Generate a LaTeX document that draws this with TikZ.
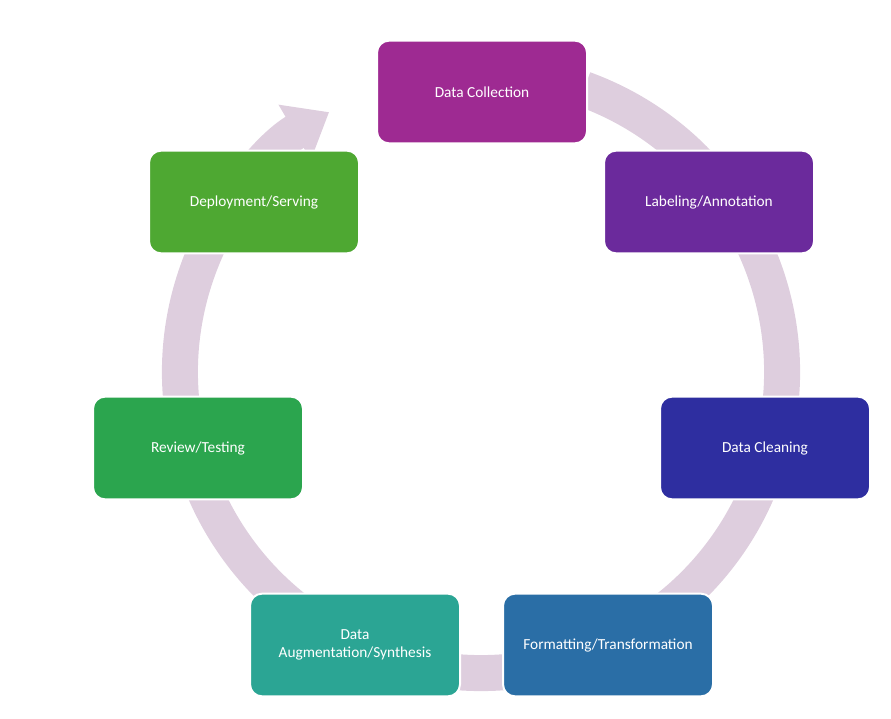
\documentclass[tikz,border=0pt]{standalone}
\usepackage{fontspec}
\setmainfont{Carlito}
\usetikzlibrary{arrows.meta}
\definecolor{ringCol}{RGB}{222,206,222}
\definecolor{colCollect}{RGB}{158,42,146}
\definecolor{colLabel}{RGB}{107,42,156}
\definecolor{colClean}{RGB}{46,46,160}
\definecolor{colFormat}{RGB}{42,110,166}
\definecolor{colAugment}{RGB}{43,165,148}
\definecolor{colReview}{RGB}{43,165,78}
\definecolor{colDeploy}{RGB}{78,168,50}
\tikzstyle{stage} = [rectangle, rounded corners=9pt, minimum width=157.5pt, minimum height=77pt, text centered, align=center, draw=white, line width=1.5pt, text=white, font=\fontsize{11.5}{13}\selectfont]
\tikzstyle{ring} = [draw=ringCol, line width=27pt, -{Triangle[width=46pt,length=30pt]}]

\begin{document}
\begin{tikzpicture}[x=0.75pt, y=0.75pt]
    \useasboundingbox (0,0) rectangle (891,718);
    \coordinate (center) at (481,346);

    \draw [ring] (center) ++(70:301) arc[start angle=70, end angle=-239.7, radius=301];

    \node (collect) [stage, fill=colCollect] at (482,626) {Data Collection};
    \node (label) [stage, fill=colLabel] at (709,516) {Labeling/Annotation};
    \node (clean) [stage, fill=colClean] at (765,270) {Data Cleaning};
    \node (format) [stage, fill=colFormat] at (608,73) {Formatting/Transformation};
    \node (augment) [stage, fill=colAugment] at (355,73) {Data\\Augmentation/Synthesis};
    \node (review) [stage, fill=colReview] at (198,270) {Review/Testing};
    \node (deploy) [stage, fill=colDeploy] at (254,516) {Deployment/Serving};
\end{tikzpicture}
\end{document}
